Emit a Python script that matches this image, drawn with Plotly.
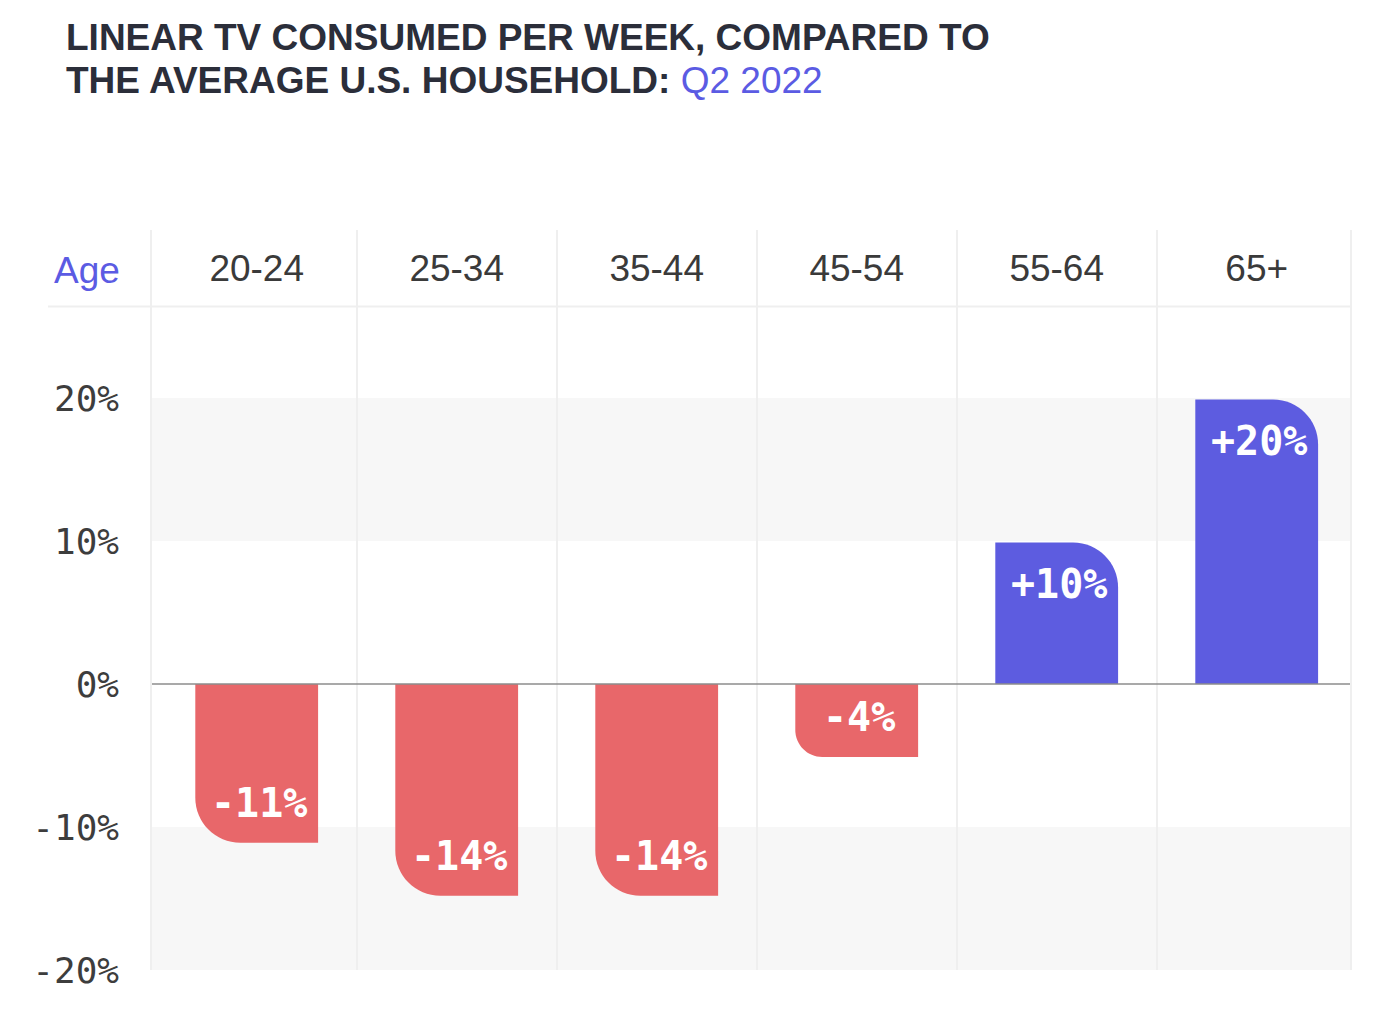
import plotly.graph_objects as go

# Data
AGE_GROUPS = ["20-24", "25-34", "35-44", "45-54", "55-64", "65+"]
DIFF_PCT = [-11.1, -14.8, -14.8, -5.1, 9.9, 19.9]
BAR_LABELS = ["-11%", "-14%", "-14%", "-4%", "+10%", "+20%"]
Y_TICKS = [-20, -10, 0, 10, 20]
Y_TICK_TEXT = ["-20%", "-10%", "0%", "10%", "20%"]
BANDS = [(10, 20), (-20, -10)]

RED = "#E8676A"
PURPLE = "#5D5CE0"
ACCENT = "#5B5BE3"
DARK = "#2B2E3A"
TEXT = "#3A3A3A"
GRID = "#EFEFEF"

SANS = "Liberation Sans, Arial, Helvetica, sans-serif"
MONO = "DejaVu Sans Mono, Liberation Mono, monospace"

# the page body adds an 8px margin, so the figure is drawn 8px smaller
OFF = 8
W, H = 1392 - OFF, 1016 - OFF
M = dict(l=152 - OFF, r=42, t=230 - OFF, b=46)
X_RANGE = [-0.5235, 5.4665]
Y_RANGE = [-20, 31.75]
HEADER_Y = 28.85     # row holding the age labels
HEADER_RULE_Y = 26.4

plot_w = W - M["l"] - M["r"]
plot_h = H - M["t"] - M["b"]
px_x = plot_w / (X_RANGE[1] - X_RANGE[0])
px_y = plot_h / (Y_RANGE[1] - Y_RANGE[0])


def paper_x(px):
    return (px - OFF - M["l"]) / plot_w


def paper_y(py):
    return (H - M["b"] - (py - OFF)) / plot_h


def bar_path(i, v, half=0.307, r_px=45, k=0.5523):
    """Bar with a single rounded corner: top-right when up, bottom-left when down."""
    x0, x1 = i - half, i + half
    r = min(r_px, 0.37 * abs(v) * px_y)
    rx, ry = r / px_x, r / px_y
    if v >= 0:
        return (f"M {x0},0 L {x0},{v} L {x1 - rx},{v} "
                f"C {x1 - rx * (1 - k)},{v} {x1},{v - ry * (1 - k)} {x1},{v - ry} "
                f"L {x1},0 Z")
    return (f"M {x0},0 L {x0},{v + ry} "
            f"C {x0},{v + ry * (1 - k)} {x0 + rx * (1 - k)},{v} {x0 + rx},{v} "
            f"L {x1},{v} L {x1},0 Z")


fig = go.Figure()

# age header row
fig.add_trace(go.Scatter(
    x=list(range(len(AGE_GROUPS))), y=[HEADER_Y] * len(AGE_GROUPS),
    mode="text", text=AGE_GROUPS, textposition="middle center",
    textfont=dict(family=SANS, size=37, color=TEXT),
    hoverinfo="skip", showlegend=False,
))

shapes = []
for lo, hi in BANDS:
    shapes.append(dict(type="rect", xref="paper", yref="y", x0=0, x1=1, y0=lo, y1=hi,
                       fillcolor="#F7F7F7", line_width=0, layer="below"))
shapes.append(dict(type="line", xref="paper", yref="y", x0=paper_x(48), x1=1,
                   y0=HEADER_RULE_Y, y1=HEADER_RULE_Y, line=dict(color=GRID, width=2),
                   layer="below"))
for i, v in enumerate(DIFF_PCT):
    shapes.append(dict(type="path", xref="x", yref="y", path=bar_path(i, v),
                       fillcolor=PURPLE if v > 0 else RED, line_width=0, layer="between"))
shapes.append(dict(type="line", xref="paper", yref="y", x0=0, x1=1, y0=0, y1=0,
                   line=dict(color="#8C8C8C", width=1.6), layer="above"))

annotations = []
for i, (v, lab) in enumerate(zip(DIFF_PCT, BAR_LABELS)):
    annotations.append(dict(
        x=i, y=v, xref="x", yref="y", text=f"<b>{lab}</b>", showarrow=False,
        xanchor="center", yanchor="middle", xshift=2, yshift=40 if v < 0 else -42,
        font=dict(family=MONO, size=40, color="white"),
    ))

annotations += [
    dict(xref="paper", yref="paper", x=paper_x(64), y=paper_y(37), xanchor="left",
         yanchor="middle", showarrow=False,
         text="<b>LINEAR TV CONSUMED PER WEEK, COMPARED TO</b>",
         font=dict(family=SANS, size=37, color=DARK)),
    dict(xref="paper", yref="paper", x=paper_x(64), y=paper_y(80.5), xanchor="left",
         yanchor="middle", showarrow=False,
         text=f"<b>THE AVERAGE U.S. HOUSEHOLD:</b> <span style='color:{ACCENT}'>Q2 2022</span>",
         font=dict(family=SANS, size=37, color=DARK)),
    dict(xref="paper", yref="paper", x=paper_x(52), y=paper_y(270), xanchor="left",
         yanchor="middle", showarrow=False, text="Age",
         font=dict(family=SANS, size=37, color=ACCENT)),
]

fig.update_layout(
    width=W, height=H, margin=M,
    paper_bgcolor="white", plot_bgcolor="white",
    showlegend=False, shapes=shapes, annotations=annotations,
    xaxis=dict(range=X_RANGE, tickvals=[0.5, 1.5, 2.5, 3.5, 4.5], showticklabels=False,
               showgrid=True, gridcolor=GRID, gridwidth=1.5, zeroline=False,
               showline=False, fixedrange=True),
    yaxis=dict(range=Y_RANGE, tickvals=Y_TICKS, ticktext=Y_TICK_TEXT, showgrid=False,
               zeroline=False, showline=True, mirror=True, linecolor=GRID, linewidth=1.5,
               ticks="", ticklabelstandoff=24,
               tickfont=dict(family=MONO, size=36, color="#3D3D3D"), fixedrange=True),
)

fig.write_html("out.html")
